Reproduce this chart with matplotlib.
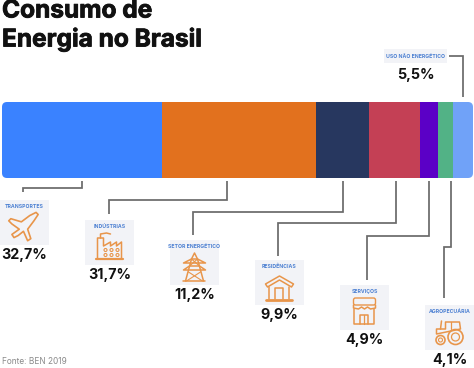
import matplotlib
matplotlib.use("Agg")
import matplotlib.pyplot as plt
from matplotlib.patches import FancyBboxPatch, Rectangle, Polygon, Circle
import matplotlib.patheffects as pe

# ---- data ----
sectors = ["TRANSPORTES", "INDÚSTRIAS", "SETOR ENERGÉTICO", "RESIDÊNCIAS",
           "SERVIÇOS", "AGROPECUÁRIA", "USO NÃO ENERGÉTICO"]
value_labels = ["32,7%", "31,7%", "11,2%", "9,9%", "4,9%", "4,1%", "5,5%"]
# segment lengths as drawn in the picture (not strictly proportional there)
segment_lengths = [160, 154, 53.5, 50.5, 18, 15, 20]
colors = ["#3A82FF", "#E2711E", "#27375F", "#C44055", "#5B00C6", "#52B286", "#70A2F8"]

plt.rcParams["font.family"] = ["Inter", "DejaVu Sans"]
W, H = 474, 368
fig = plt.figure(figsize=(W / 100, H / 100), dpi=100)
ax = fig.add_axes([0, 0, 1, 1])
ax.set_xlim(0, W)
ax.set_ylim(H, 0)
ax.axis("off")

ICON = "#E8954A"
LINE = "#6A6A6A"
CARD = "#F2F3F7"
LABEL = "#4C80D2"

# title / source
heavy = [pe.withStroke(linewidth=0.6, foreground="#111111")]
t1 = ax.text(2, 11, "Consumo de", fontsize=17.6, fontweight="bold", color="#111111", va="center")
t2 = ax.text(2, 39, "Energia no Brasil", fontsize=17.6, fontweight="bold", color="#111111", va="center")
t1.set_path_effects(heavy)
t2.set_path_effects(heavy)
ax.text(2, 362, "Fonte: BEN 2019", fontsize=6.0, color="#8A8A8A", va="center")

# stacked bar
x0, bar_y, bar_h = 2, 140, 76
clip = FancyBboxPatch((x0 + 4, bar_y - bar_h / 2 + 4), sum(segment_lengths) - 8, bar_h - 8,
                      boxstyle="round,pad=4,rounding_size=5", fc="none", ec="none",
                      transform=ax.transData)
ax.add_patch(clip)
left = x0
for length, c in zip(segment_lengths, colors):
    b = ax.barh(bar_y, length, height=bar_h, left=left, color=c, linewidth=0)[0]
    b.set_clip_path(clip)
    left += length

# connectors (pixel paths)
paths = [
    [(82, 181), (82, 188), (23.5, 188), (23.5, 192)],
    [(227, 181), (227, 199.5), (109, 199.5), (109, 214)],
    [(343, 181), (343, 211.5), (193, 211.5), (193, 235)],
    [(396, 181), (396, 223), (278, 223), (278, 256)],
    [(429, 181), (429, 236), (367, 236), (367, 280)],
    [(451, 181), (451, 247), (444, 247), (444, 298)],
    [(449, 56), (463, 56), (463, 97)],
]
for p in paths:
    ax.plot(*zip(*p), color=LINE, lw=1.25, solid_joinstyle="miter", solid_capstyle="butt")

# cards: x-left, y-top
cards = [(0, 200), (85, 220), (170, 240), (255, 260), (340, 285), (425, 305)]


def seg(pts, lw=1.1):
    ax.plot(*zip(*pts), color=ICON, lw=lw, solid_capstyle="round", solid_joinstyle="round")


def poly(pts, lw=1.1):
    ax.add_patch(Polygon(pts, closed=True, fc="none", ec=ICON, lw=lw, joinstyle="round"))


def plane(cx, cy):
    pts = [(-10, 12), (-12, 9), (-5, 4), (-12, -1), (-15, -4), (-13, -6), (-3, -3), (5, -9),
           (11, -12), (13, -10), (9, -4), (3, 4), (6, 13), (3, 15), (-1, 6), (-6, 10)]
    poly([(cx + x * 1.05, cy + y * 1.05 - 2) for x, y in pts], lw=1.2)


def factory(cx, cy):
    poly([(cx - 12, cy + 12), (cx - 12, cy - 9), (cx - 6, cy - 9), (cx - 6, cy - 1), (cx + 1, cy - 5),
          (cx + 1, cy - 1), (cx + 7, cy - 5), (cx + 7, cy - 1), (cx + 12, cy - 5), (cx + 12, cy + 12)])
    seg([(cx - 13, cy + 12), (cx + 14, cy + 12)], 1.6)
    seg([(cx - 9, cy - 9), (cx - 9, cy - 13), (cx - 3, cy - 14), (cx + 1, cy - 13)])
    for dx in (-4, 2, 8):
        for dy in (3, 8):
            ax.add_patch(Circle((cx + dx, cy + dy), 1.5, fc="none", ec=ICON, lw=0.8))


def tower(cx, cy):
    seg([(cx - 9, cy + 14), (cx - 3, cy - 8), (cx, cy - 14), (cx + 3, cy - 8), (cx + 9, cy + 14)], 1.1)
    seg([(cx - 11, cy + 14), (cx + 11, cy + 14)], 1.1)
    poly([(cx - 11, cy - 4), (cx - 3, cy - 8), (cx + 3, cy - 8), (cx + 11, cy - 4)])
    poly([(cx - 11, cy + 3), (cx - 5, cy - 1), (cx + 5, cy - 1), (cx + 11, cy + 3)])
    seg([(cx - 3, cy - 8), (cx + 5, cy - 1)], 0.8)
    seg([(cx + 3, cy - 8), (cx - 5, cy - 1)], 0.8)
    seg([(cx - 6, cy + 5), (cx + 8, cy + 14)], 0.8)
    seg([(cx + 6, cy + 5), (cx - 8, cy + 14)], 0.8)


def house(cx, cy):
    poly([(cx - 14, cy - 3), (cx, cy - 11), (cx + 14, cy - 3), (cx + 12, cy), (cx, cy - 7), (cx - 12, cy)])
    seg([(cx - 10, cy), (cx - 10, cy + 12)], 1.1)
    seg([(cx + 10, cy), (cx + 10, cy + 12)], 1.1)
    seg([(cx - 4, cy + 12), (cx - 4, cy + 1), (cx + 4, cy + 1), (cx + 4, cy + 12)], 1.1)
    seg([(cx - 13, cy + 13), (cx + 13, cy + 13)], 2.0)


def shop(cx, cy):
    ax.add_patch(FancyBboxPatch((cx - 10, cy - 13), 20, 5, boxstyle="round,pad=1,rounding_size=2",
                                fc="none", ec=ICON, lw=1.0))
    seg([(cx - 11, cy - 7), (cx - 11, cy - 4), (cx - 6, cy - 3), (cx - 3, cy - 5), (cx, cy - 3),
         (cx + 3, cy - 5), (cx + 6, cy - 3), (cx + 11, cy - 4), (cx + 11, cy - 7)])
    seg([(cx - 10, cy - 3), (cx - 10, cy + 12), (cx + 10, cy + 12), (cx + 10, cy - 3)], 1.1)
    seg([(cx - 4, cy + 12), (cx - 4, cy + 3), (cx + 4, cy + 3), (cx + 4, cy + 12)])
    seg([(cx, cy + 3), (cx, cy + 12)], 0.9)


def tractor(cx, cy):
    ax.add_patch(Circle((cx + 6, cy + 5), 7.5, fc="none", ec=ICON, lw=1.2))
    ax.add_patch(Circle((cx + 6, cy + 5), 4, fc="none", ec=ICON, lw=0.9))
    ax.add_patch(Circle((cx - 9, cy + 8), 4.5, fc="none", ec=ICON, lw=1.2))
    ax.add_patch(Circle((cx - 9, cy + 8), 2, fc="none", ec=ICON, lw=0.8))
    poly([(cx - 13, cy + 2), (cx - 13, cy - 3), (cx - 4, cy - 3), (cx - 4, cy - 10), (cx + 10, cy - 10),
          (cx + 11, cy - 3)])
    seg([(cx - 9, cy - 3), (cx - 8, cy - 11)], 1.1)
    seg([(cx + 2, cy - 10), (cx + 2, cy - 3)], 0.9)


icons = [plane, factory, tower, house, shop, tractor]

for (cx0, cy0), name, val, icon in zip(cards, sectors[:6], value_labels[:6], icons):
    ax.add_patch(Rectangle((cx0, cy0), 49, 44.5, fc=CARD, ec="none"))
    ax.text(cx0 + 24.5, cy0 + 6.8, name, fontsize=3.7, fontweight="bold", color=LABEL,
            ha="center", va="center")
    icon(cx0 + 24.5, cy0 + 27)
    ax.text(cx0 + 24.5, cy0 + 55, val, fontsize=10.3, fontweight="bold", color="#111111",
            ha="center", va="center")

# top-right card
ax.add_patch(Rectangle((384, 49), 63, 14, fc=CARD, ec="none"))
ax.text(415.5, 56, sectors[6], fontsize=3.7, fontweight="bold", color=LABEL, ha="center", va="center")
ax.text(416, 75, value_labels[6], fontsize=10.3, fontweight="bold", color="#111111", ha="center", va="center")

fig.savefig("out.png", dpi=100)
